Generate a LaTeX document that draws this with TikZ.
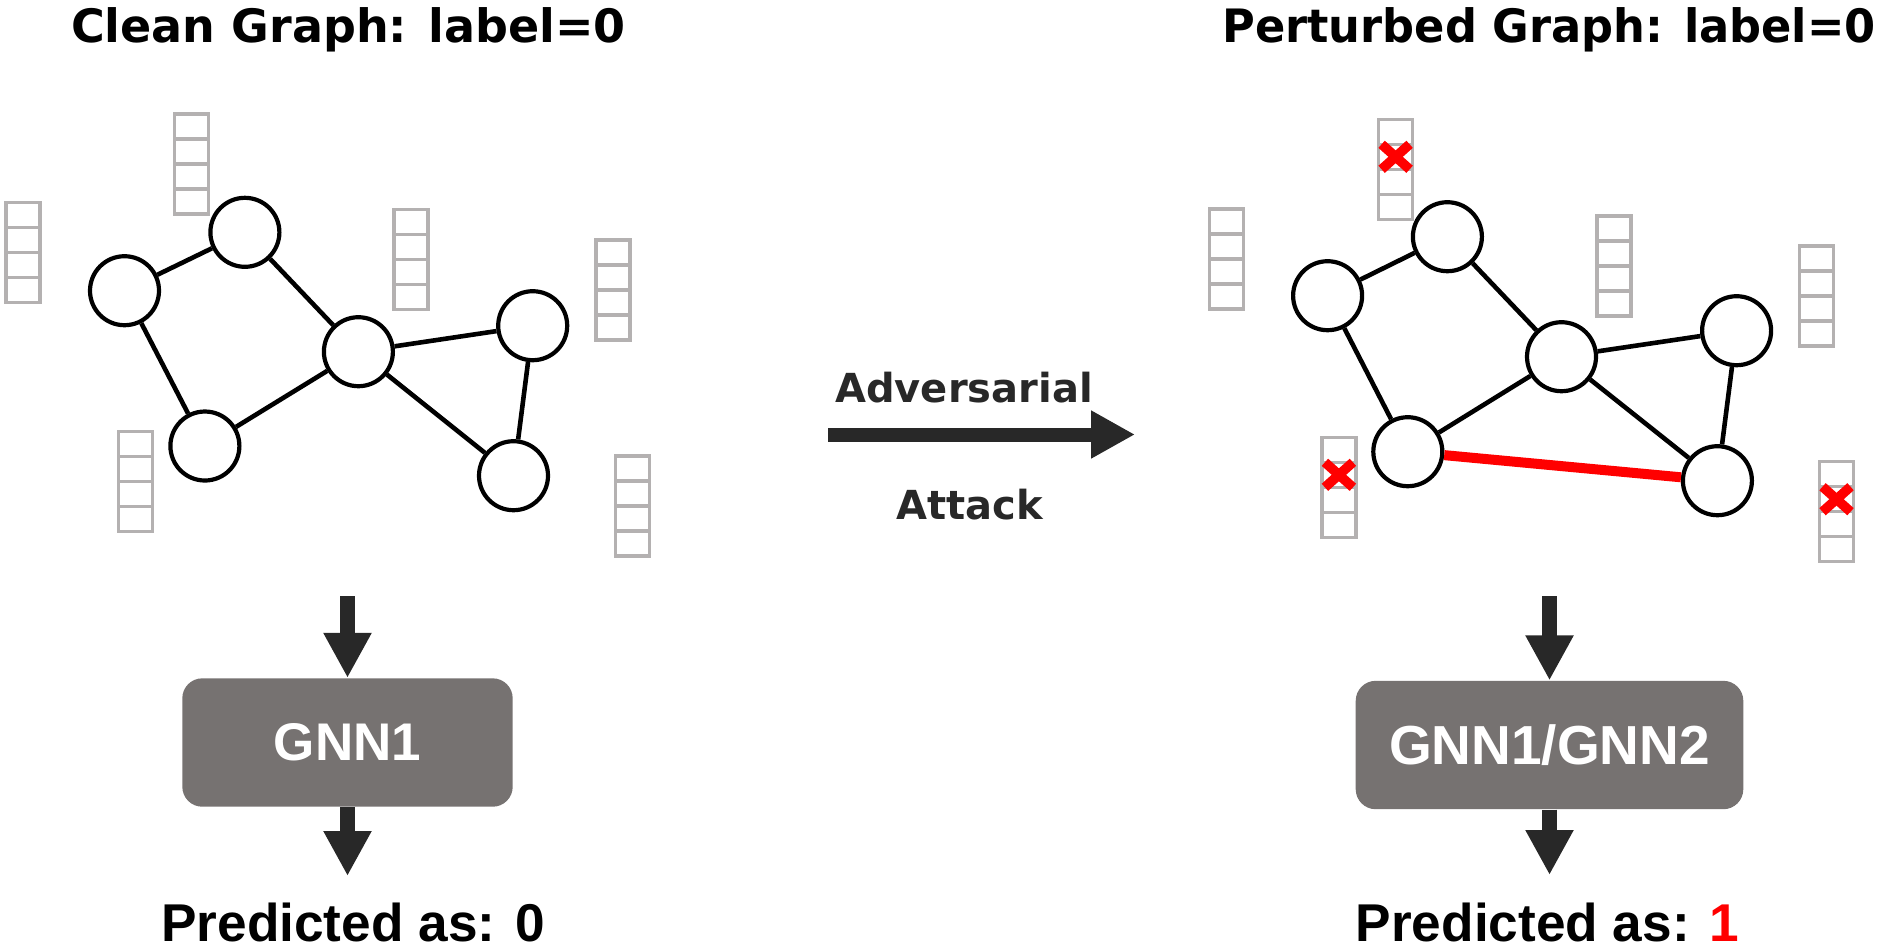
\documentclass[tikz,border=0pt]{standalone}
\usepackage{fontspec}
\setmainfont{Liberation Sans}
\newfontfamily\dvs{DejaVu Sans}
\usetikzlibrary{arrows.meta}

\definecolor{boxgray}{RGB}{118,114,113}
\definecolor{vecgray}{RGB}{180,177,177}
\definecolor{arrowdark}{RGB}{40,40,40}

\tikzset{
  fvec/.pic={\foreach \k in {0,1,2,3} \draw[vcell] (0,\k*25) rectangle (34,\k*25+25);},
  xcross/.pic={\draw[xmark] (-14,-12.5) -- (14,12.5); \draw[xmark] (-14,12.5) -- (14,-12.5);},
}

\begin{document}
\begin{tikzpicture}[x=0.5pt,y=-0.5pt,
  gnode/.style={circle, draw=black, line width=2.1pt, minimum size=34.5pt, inner sep=0pt, fill=white},
  gedge/.style={line width=2.3pt, draw=black},
  redge/.style={line width=5pt, draw=red},
  vcell/.style={draw=vecgray, line width=1.75pt},
  xmark/.style={line width=4.8pt, draw=red},
  gnnbox/.style={rectangle, rounded corners=10pt, fill=boxgray, text=white, minimum height=64.2pt, inner sep=0pt},
  flowarrow/.style={draw=arrowdark, line width=7.5pt, -{Triangle[width=22.5pt,length=22.5pt]}},
  advarrow/.style={draw=arrowdark, line width=7pt, -{Triangle[width=22.5pt,length=22pt]}},
  title/.style={anchor=base, inner sep=0pt, font=\dvs\bfseries\fontsize{23pt}{28pt}\selectfont},
  advtext/.style={anchor=base, inner sep=0pt, text=arrowdark, font=\dvs\bfseries\fontsize{20pt}{24pt}\selectfont},
  predtext/.style={anchor=base, inner sep=0pt, font=\bfseries\fontsize{26.6pt}{30pt}\selectfont},
]
\useasboundingbox (0,0) rectangle (1883,950);

% titles
\node[title] (t1) at (348.5,42.7) {Clean Graph: label=0};
\node[title] (t2) at (1549,42.7) {\scalebox{0.972}[1]{Perturbed Graph: label=0}};

% feature vectors, left
\pic at (6.1,202.7) {fvec};
\pic at (174.3,114) {fvec};
\pic at (393.9,209.3) {fvec};
\pic at (595.9,240) {fvec};
\pic at (118.4,431.7) {fvec};
\pic at (615.5,456) {fvec};

% feature vectors, right
\pic at (1209.6,209) {fvec};
\pic at (1378.6,119.3) {fvec};
\pic at (1597.2,216) {fvec};
\pic at (1799.7,246) {fvec};
\pic at (1321.9,437.3) {fvec};
\pic at (1819.5,461.7) {fvec};

% left graph
\node[gnode] (lA) at (124.5,290.7) {};
\node[gnode] (lB) at (244.9,232.3) {};
\node[gnode] (lC) at (358.4,351.7) {};
\node[gnode] (lD) at (204.9,446) {};
\node[gnode] (lE) at (532.7,325.7) {};
\node[gnode] (lF) at (513.5,475.7) {};
\draw[gedge] (lA) -- (lB);
\draw[gedge] (lB) -- (lC);
\draw[gedge] (lA) -- (lD);
\draw[gedge] (lD) -- (lC);
\draw[gedge] (lC) -- (lE);
\draw[gedge] (lC) -- (lF);
\draw[gedge] (lE) -- (lF);

% right graph
\node[gnode] (rA) at (1327.6,295.7) {};
\node[gnode] (rB) at (1447.4,236.7) {};
\node[gnode] (rC) at (1561.5,356.7) {};
\node[gnode] (rD) at (1407.8,451.7) {};
\node[gnode] (rE) at (1736.6,330.7) {};
\node[gnode] (rF) at (1717.4,480.7) {};
\draw[gedge] (rA) -- (rB);
\draw[gedge] (rB) -- (rC);
\draw[gedge] (rA) -- (rD);
\draw[gedge] (rD) -- (rC);
\draw[gedge] (rC) -- (rE);
\draw[gedge] (rC) -- (rF);
\draw[gedge] (rE) -- (rF);
\draw[redge] (rD) -- (rF);

% red crosses on perturbed features
\pic at (1395.6,156.8) {xcross};
\pic at (1338.9,474.8) {xcross};
\pic at (1836.5,499.2) {xcross};

% adversarial attack arrow
\node[advtext] (adv) at (964,402.7) {Adversarial};
\node[advtext] (att) at (970,519) {Attack};
\coordinate (advS) at (828.3,434.5);
\coordinate (advE) at (1135,434.5);
\draw[advarrow] (advS) -- (advE);

% GNN boxes
\node[gnnbox, minimum width=165.2pt, font=\bfseries\fontsize{26.5pt}{30pt}\selectfont] (gnnL) at (347.5,742.5) {GNN1};
\node[gnnbox, minimum width=193.8pt, font=\bfseries\fontsize{27.5pt}{30pt}\selectfont] (gnnR) at (1549.5,745) {GNN1/GNN2};

\coordinate (inL) at (347.5,596);
\coordinate (outL) at (347.5,876);
\coordinate (inR) at (1549.5,596);
\coordinate (outR) at (1549.5,875);
\draw[flowarrow] (inL) -- (gnnL.north);
\draw[flowarrow] (gnnL.south) -- (outL);
\draw[flowarrow] (inR) -- (gnnR.north);
\draw[flowarrow] (gnnR.south) -- (outR);

% predictions
\node[predtext] (pL) at (353,941) {Predicted as: 0};
\node[predtext] (pR) at (1547.5,941) {Predicted as: \textcolor{red}{1}};
\end{tikzpicture}
\end{document}
